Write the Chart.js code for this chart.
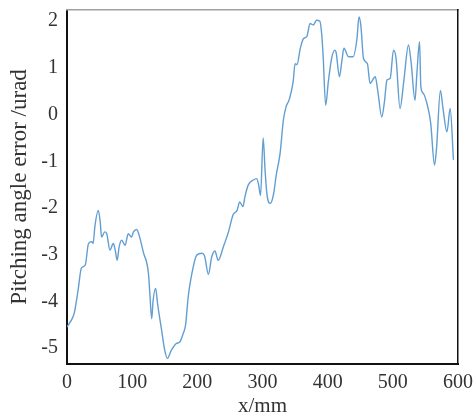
<!DOCTYPE html>
<html>
<head>
<meta charset="utf-8">
<script src="https://cdn.jsdelivr.net/npm/chart.js@4"></script>
<style>
  html, body { margin: 0; padding: 0; background: #fff; }
  #wrap { width: 474px; height: 419px; }
</style>
</head>
<body>
<div id="wrap"><canvas id="myChart"></canvas></div>
<script>
// positions along the axis (mm) and pitching angle error (urad)
const xPos = [0, 10, 12, 17, 22, 28, 33, 38, 40, 43, 48, 51, 53, 58, 61, 66, 71, 74, 77, 80,
  84, 89, 94, 99, 102, 107, 112, 117, 125, 127, 130, 132, 136, 139, 145, 150, 154, 160, 168, 173,
  178, 182, 186, 191, 199, 207, 211, 217, 222, 227, 232, 240, 248, 255, 261, 265, 270, 273, 278, 286,
  291, 294, 297, 301, 304, 307, 312, 317, 321, 327, 332, 336, 341, 347, 350, 353, 358, 363, 368, 373,
  378, 383, 388, 391, 393, 397, 401, 406, 411, 413, 418, 422, 425, 432, 439, 445, 448, 451, 455, 461,
  465, 473, 477, 483, 487, 491, 496, 501, 505, 511, 517, 524, 528, 534, 537, 541, 543, 547, 553, 558,
  564, 567, 573, 577, 583, 588, 593];
const pitchErr = [-4.55, -4.3, -4.19, -3.76, -3.29, -3.22, -2.76, -2.72, -2.76, -2.37, -2.05, -2.3, -2.62, -2.51, -2.55, -2.9, -2.76, -2.9, -3.12, -2.83,
  -2.69, -2.8, -2.55, -2.62, -2.51, -2.46, -2.65, -2.94, -3.4, -3.8, -4.37, -4.0, -3.72, -4.05, -4.6, -5.05, -5.22, -5.05, -4.9, -4.87,
  -4.7, -4.5, -3.9, -3.45, -3.01, -2.97, -3.02, -3.42, -3.05, -2.92, -3.12, -2.83, -2.5, -2.14, -2.05, -1.87, -1.97, -1.76, -1.51, -1.4,
  -1.37, -1.5, -1.73, -0.5, -1.2, -1.73, -1.9, -1.7, -1.3, -0.83, -0.12, 0.16, 0.32, 0.7, 1.09, 1.07, 1.42, 1.63, 1.67, 1.95,
  1.92, 2.02, 2.0, 1.7, 1.27, 0.2, 0.7, 1.2, 1.38, 1.33, 0.81, 1.17, 1.42, 1.24, 1.24, 1.63, 2.09, 1.9, 1.2, 1.09,
  0.67, 0.81, 0.5, -0.05, 0.26, 0.74, 0.78, 1.38, 1.2, 0.13, 0.74, 1.49, 1.13, 0.31, 0.9, 1.56, 0.6, 0.45, 0.2, -0.17,
  -1.08, -0.73, 0.52, 0.13, -0.37, 0.13, -0.97];
const yTicks = [-5, -4, -3, -2, -1, 0, 1, 2];
const xTicks = [0, 100, 200, 300, 400, 500, 600];

const serif = "'Liberation Serif', 'Times New Roman', serif";
const textColor = "#333";

// fixed box sizes, and no extra room for overhanging tick labels
function fixBox(w, h) {
  return (s) => {
    if (w !== null) s.width = w;
    if (h !== null) s.height = h;
    s.paddingTop = 0;
    s.paddingBottom = 0;
    s.paddingLeft = 0;
    s.paddingRight = 0;
  };
}

const ctx = document.getElementById("myChart");

new Chart(ctx, {
  type: "line",
  data: {
    datasets: [
      {
        data: xPos.map((x, i) => ({ x: x, y: pitchErr[i] })),
        borderColor: "rgb(98, 158, 210)",
        borderWidth: 1.4,
        pointRadius: 0,
        cubicInterpolationMode: "monotone",
        fill: false,
      },
    ],
  },
  options: {
    responsive: true,
    maintainAspectRatio: false,
    animation: false,
    layout: { padding: { top: 10, right: 16, left: 0, bottom: 0 } },
    plugins: { legend: { display: false }, tooltip: { enabled: false } },
    scales: {
      x: {
        type: "linear",
        position: "bottom",
        min: 0,
        max: 600,
        afterBuildTicks: (s) => { s.ticks = xTicks.map((v) => ({ value: v })); },
        afterFit: fixBox(null, 55),
        grid: { display: false, drawTicks: false },
        border: { display: true, color: "#111", width: 2 },
        ticks: { padding: 7, color: textColor, font: { family: serif, size: 20 }, maxRotation: 0 },
        title: {
          display: true,
          text: "x/mm",
          color: textColor,
          font: { family: serif, size: 21 },
          padding: { top: 0, bottom: 0 },
        },
      },
      y: {
        type: "linear",
        position: "left",
        min: -5.34,
        max: 2.24,
        afterBuildTicks: (s) => { s.ticks = yTicks.map((v) => ({ value: v })); },
        afterFit: fixBox(67, null),
        grid: { display: false, drawTicks: false },
        border: { display: true, color: "#111", width: 2 },
        ticks: { padding: 9, color: textColor, font: { family: serif, size: 20 } },
        title: {
          display: true,
          text: "Pitching angle error /urad",
          color: textColor,
          font: { family: serif, size: 23 },
          padding: { top: 6, bottom: 0 },
        },
      },
      x2: {
        type: "linear",
        position: "top",
        afterFit: fixBox(null, 0),
        grid: { display: false, drawTicks: false },
        border: { display: true, color: "#a0a0a0", width: 1.5 },
        ticks: { display: false },
      },
      y2: {
        type: "linear",
        position: "right",
        afterFit: fixBox(0, null),
        grid: { display: false, drawTicks: false },
        border: { display: true, color: "#111", width: 1.5 },
        ticks: { display: false },
      },
    },
  },
});
</script>
</body>
</html>
